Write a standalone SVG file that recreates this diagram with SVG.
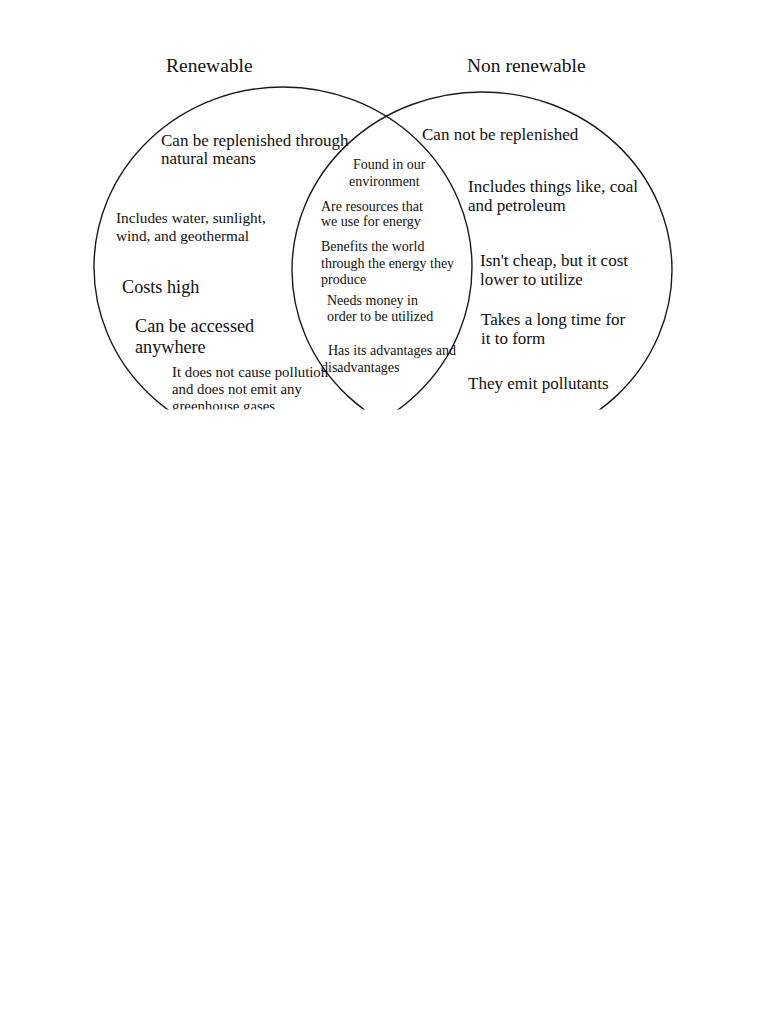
<svg xmlns="http://www.w3.org/2000/svg" width="768" height="1024" viewBox="0 0 768 1024">
<style>
text{font-family:"Liberation Serif","Times New Roman",serif;fill:#111}
.h{font-size:19.5px}
.m{font-size:17px}
.s{font-size:15.3px}
.l{font-size:18.2px}
.t{font-size:14px}
.c{fill:none;stroke:#1a1a1a;stroke-width:1.4}
</style>
<defs><clipPath id="cut"><rect x="0" y="0" width="768" height="409.5"/></clipPath></defs>
<rect width="768" height="1024" fill="#fff"/>
<g clip-path="url(#cut)">
<g id="renewable">
<ellipse class="c" cx="283" cy="267" rx="189" ry="180"/>
<text class="h" x="166" y="72">Renewable</text>
<text class="m" x="161" y="146">Can be replenished through</text>
<text class="m" x="161" y="164">natural means</text>
<text class="s" x="116" y="223">Includes water, sunlight,</text>
<text class="s" x="116" y="241">wind, and geothermal</text>
<text class="l" x="122" y="293">Costs high</text>
<text class="l" x="135" y="332">Can be accessed</text>
<text class="l" x="135" y="353">anywhere</text>
<text class="s" x="172" y="377" style="font-size:14.8px">It does not cause pollution</text>
<text class="s" x="172" y="394" style="font-size:14.8px">and does not emit any</text>
<text class="s" x="172" y="411" style="font-size:14.8px">greenhouse gases</text>
</g>
<g id="nonrenewable">
<ellipse class="c" cx="482" cy="270" rx="190" ry="178"/>
<text class="h" x="467" y="72">Non renewable</text>
<text class="m" x="422" y="140">Can not be replenished</text>
<text class="m" x="468" y="192">Includes things like, coal</text>
<text class="m" x="468" y="211">and petroleum</text>
<text class="m" x="480" y="266">Isn't cheap, but it cost</text>
<text class="m" x="480" y="285">lower to utilize</text>
<text class="m" x="481" y="325">Takes a long time for</text>
<text class="m" x="481" y="344">it to form</text>
<text class="m" x="468" y="389">They emit pollutants</text>
</g>
<g id="both">
<text class="t" x="353" y="169">Found in our</text>
<text class="t" x="349" y="186">environment</text>
<text class="t" x="321" y="211">Are resources that</text>
<text class="t" x="321" y="226">we use for energy</text>
<text class="t" x="321" y="251">Benefits the world</text>
<text class="t" x="321" y="268">through the energy they</text>
<text class="t" x="321" y="284">produce</text>
<text class="t" x="327" y="305">Needs money in</text>
<text class="t" x="327" y="321">order to be utilized</text>
<text class="t" x="328" y="355">Has its advantages and</text>
<text class="t" x="321" y="372">disadvantages</text>
</g>
</g>
<g id="connectors"/>
</svg>
